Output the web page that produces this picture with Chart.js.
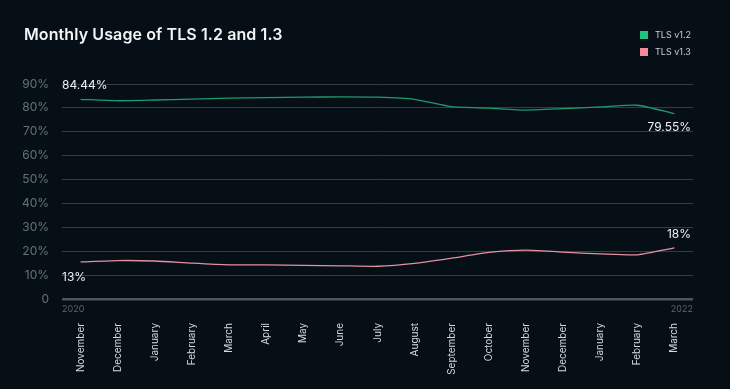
<!DOCTYPE html>
<html>
<head>
<meta charset="utf-8">
<script src="https://cdn.jsdelivr.net/npm/chart.js@4.4.1/dist/chart.umd.min.js"></script>
<style>
  html, body { margin: 0; padding: 0; background: #050f15; }
  .wrap { position: relative; width: 730px; height: 389px; background: #050f15; font-family: Inter, "Open Sans", sans-serif; }
  .title { position: absolute; left: 24px; top: 24px; color: #f2f4f5; font-size: 16px; font-weight: 600; letter-spacing: 0.1px; }
  .legend { position: absolute; left: 640px; top: 26px; color: #c9cfd2; font-size: 9px; }
  .legend div { display: flex; align-items: center; height: 17px; }
  .legend span { display: inline-block; width: 8px; height: 8px; margin-right: 7px; }
  canvas { position: absolute; left: 0; top: 0; }
</style>
</head>
<body>
<div class="wrap">
  <canvas id="tlsChart" width="730" height="389"></canvas>
  <div class="title">Monthly Usage of TLS 1.2 and 1.3</div>
  <div class="legend" id="legend"></div>
</div>
<script>
const months = ['November', 'December', 'January', 'February', 'March', 'April', 'May', 'June', 'July',
    'August', 'September', 'October', 'November', 'December', 'January', 'February', 'March'];
const tls12 = [83.6, 83.0, 83.3, 83.7, 84.1, 84.3, 84.5, 84.6, 84.5, 83.6, 80.5, 79.9, 79.1, 79.7, 80.4, 81.1, 77.6];
const tls13 = [15.5, 16.1, 15.9, 15.0, 14.3, 14.3, 14.1, 13.9, 13.7, 14.9, 17.1, 19.5, 20.5, 19.6, 18.9, 18.5, 21.4];
const yearLabels = ['2020', '2022'];
// подписи у первой и последней точки, как на оригинале
const tls12Notes = ['84.44%', '79.55%'];
const tls13Notes = ['13%', '18%'];

const series = [
    { label: 'TLS v1.2', data: tls12, line: '#1f9a6c', box: '#1ec27f', notes: tls12Notes },
    { label: 'TLS v1.3', data: tls13, line: '#e2909f', box: '#f58a98', notes: tls13Notes },
];

document.getElementById('legend').innerHTML = series
    .map(s => `<div><span style="background:${s.box}"></span>${s.label}</div>`).join('');

const notesPlugin = {
    id: 'notes',
    afterDatasetsDraw(chart) {
        const ctx = chart.ctx;
        const area = chart.chartArea;
        ctx.save();
        ctx.font = '12px Inter, "Open Sans", sans-serif';
        ctx.fillStyle = '#eef1f2';
        ctx.textBaseline = 'middle';
        chart.data.datasets.forEach((ds, i) => {
            const pts = chart.getDatasetMeta(i).data;
            const first = pts[0], last = pts[pts.length - 1];
            ctx.textAlign = 'left';
            ctx.fillText(ds.notes[0], area.left, i === 0 ? first.y - 14 : first.y + 15);
            ctx.textAlign = 'right';
            ctx.fillText(ds.notes[1], area.right - 2, i === 0 ? last.y + 14 : last.y - 13);
        });
        // годы под осью
        ctx.font = '9px Inter, "Open Sans", sans-serif';
        ctx.fillStyle = '#5b676c';
        ctx.textAlign = 'left';
        ctx.fillText(yearLabels[0], area.left, area.bottom + 10);
        ctx.textAlign = 'right';
        ctx.fillText(yearLabels[1], area.right, area.bottom + 10);
        ctx.restore();
    }
};

new Chart(document.getElementById('tlsChart'), {
    type: 'line',
    data: {
        labels: months,
        datasets: series.map(s => ({
            label: s.label,
            data: s.data,
            notes: s.notes,
            borderColor: s.line,
            borderWidth: 1.3,
            pointRadius: 0,
            tension: 0.2,
            fill: false,
        }))
    },
    options: {
        responsive: false,
        animation: false,
        layout: { padding: { top: 84, right: 37, left: 0, bottom: 0 } },
        plugins: { legend: { display: false }, tooltip: { enabled: false } },
        scales: {
            x: {
                offset: true,
                grid: { display: false },
                border: { display: false },
                afterFit: (scale) => { scale.height = 90; },
                ticks: {
                    color: '#d5dadc',
                    font: { size: 10, family: 'Inter, "Open Sans", sans-serif' },
                    minRotation: 90,
                    maxRotation: 90,
                    padding: 16,
                    autoSkip: false,
                }
            },
            y: {
                min: 0,
                max: 90,
                border: { display: false },
                afterFit: (scale) => { scale.width = 62; },
                grid: {
                    drawTicks: false,
                    color: (c) => c.tick && c.tick.value === 0 ? '#4c575c' : '#343e42',
                    lineWidth: (c) => c.tick && c.tick.value === 0 ? 2.5 : 1,
                },
                ticks: {
                    stepSize: 10,
                    padding: 13,
                    color: '#65727a',
                    font: { size: 12, family: 'Inter, "Open Sans", sans-serif' },
                    callback: (v) => v === 0 ? '0' : v + '%',
                }
            }
        }
    },
    plugins: [notesPlugin]
});
</script>
</body>
</html>
